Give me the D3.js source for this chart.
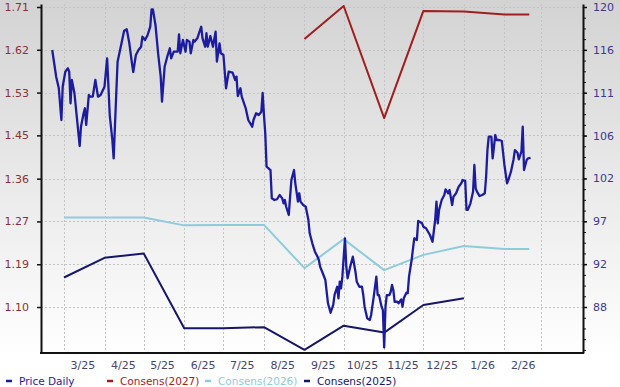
<!DOCTYPE html>
<html><head><meta charset="utf-8">
<script src="https://cdn.jsdelivr.net/npm/d3@7/dist/d3.min.js"></script>
<style>html,body{margin:0;padding:0;background:#fff}svg{display:block}</style>
</head><body>
<svg id="chart" width="620" height="387"></svg>
<script>
// ---------- data ----------
const priceDates = ["2025-02-20","2025-02-23","2025-02-25","2025-02-27","2025-02-28","2025-03-02","2025-03-04","2025-03-05","2025-03-06","2025-03-07","2025-03-09","2025-03-13","2025-03-14","2025-03-16","2025-03-17","2025-03-18","2025-03-20","2025-03-21","2025-03-23","2025-03-25","2025-03-27","2025-03-29","2025-04-01","2025-04-03","2025-04-05","2025-04-07","2025-04-08","2025-04-10","2025-04-11","2025-04-14","2025-04-16","2025-04-18","2025-04-20","2025-04-22","2025-04-23","2025-04-25","2025-04-27","2025-04-29","2025-04-30","2025-05-02","2025-05-04","2025-05-06","2025-05-07","2025-05-08","2025-05-10","2025-05-12","2025-05-14","2025-05-15","2025-05-17","2025-05-19","2025-05-21","2025-05-22","2025-05-24","2025-05-27","2025-05-28","2025-05-29","2025-05-31","2025-06-02","2025-06-03","2025-06-05","2025-06-06","2025-06-08","2025-06-09","2025-06-11","2025-06-14","2025-06-15","2025-06-17","2025-06-18","2025-06-19","2025-06-21","2025-06-23","2025-06-25","2025-06-26","2025-06-28","2025-06-29","2025-07-01","2025-07-03","2025-07-05","2025-07-08","2025-07-10","2025-07-11","2025-07-12","2025-07-14","2025-07-15","2025-07-18","2025-07-20","2025-07-23","2025-07-24","2025-07-26","2025-07-28","2025-07-30","2025-07-31","2025-08-01","2025-08-02","2025-08-03","2025-08-06","2025-08-07","2025-08-09","2025-08-11","2025-08-13","2025-08-15","2025-08-16","2025-08-17","2025-08-18","2025-08-20","2025-08-21","2025-08-22","2025-08-24","2025-08-25","2025-08-27","2025-08-28","2025-08-29","2025-08-31","2025-09-02","2025-09-04","2025-09-05","2025-09-07","2025-09-09","2025-09-11","2025-09-12","2025-09-13","2025-09-15","2025-09-17","2025-09-18","2025-09-19","2025-09-21","2025-09-23","2025-09-24","2025-09-26","2025-09-27","2025-09-28","2025-09-29","2025-09-30","2025-10-02","2025-10-03","2025-10-04","2025-10-06","2025-10-08","2025-10-10","2025-10-11","2025-10-13","2025-10-15","2025-10-16","2025-10-17","2025-10-19","2025-10-21","2025-10-22","2025-10-24","2025-10-26","2025-10-27","2025-10-28","2025-10-30","2025-10-31","2025-11-01","2025-11-02","2025-11-03","2025-11-05","2025-11-06","2025-11-07","2025-11-08","2025-11-09","2025-11-11","2025-11-12","2025-11-14","2025-11-15","2025-11-16","2025-11-18","2025-11-19","2025-11-20","2025-11-22","2025-11-24","2025-11-26","2025-11-27","2025-11-30","2025-12-01","2025-12-03","2025-12-06","2025-12-08","2025-12-10","2025-12-11","2025-12-12","2025-12-13","2025-12-15","2025-12-17","2025-12-18","2025-12-20","2025-12-21","2025-12-23","2025-12-24","2025-12-26","2025-12-28","2025-12-30","2025-12-31","2026-01-02","2026-01-03","2026-01-04","2026-01-06","2026-01-08","2026-01-09","2026-01-10","2026-01-11","2026-01-13","2026-01-15","2026-01-17","2026-01-18","2026-01-19","2026-01-20","2026-01-22","2026-01-23","2026-01-25","2026-01-26","2026-01-28","2026-01-30","2026-02-01","2026-02-03","2026-02-04","2026-02-06","2026-02-08","2026-02-09","2026-02-11","2026-02-12","2026-02-14","2026-02-15","2026-02-16","2026-02-18","2026-02-19","2026-02-21"];
const priceValues = [115.68,112.79,111.56,108.09,111.70,113.33,113.70,113.33,109.90,112.43,110.99,105.27,107.36,108.82,109.36,107.55,110.80,110.62,110.62,112.43,110.62,110.80,111.70,114.78,108.63,105.92,103.93,110.99,114.42,116.41,117.78,117.93,116.41,114.24,113.30,115.14,115.68,116.04,117.13,116.77,117.31,118.21,120.10,120.10,118.40,115.33,112.79,110.08,113.87,114.96,115.87,114.78,115.50,115.50,117.39,115.33,116.77,115.50,116.77,116.59,115.33,116.77,116.59,116.95,118.21,116.95,116.04,117.50,116.04,117.20,116.04,117.67,114.42,116.41,115.33,115.14,111.53,113.33,113.22,112.43,112.79,110.69,111.53,110.62,109.39,108.09,107.36,108.09,108.82,108.63,108.99,111.02,108.63,106.65,103.02,102.66,99.59,99.41,99.49,99.95,99.59,99.05,99.41,98.68,97.78,99.77,101.58,102.66,101.22,99.23,100.14,99.23,98.87,98.68,97.24,95.80,94.71,93.80,93.26,92.90,92.17,91.46,90.73,89.43,88.20,87.18,88.02,89.10,90.00,88.74,90.55,89.83,91.09,95.25,92.17,90.91,92.17,93.26,91.63,90.55,90.00,90.00,89.10,87.83,86.57,86.39,86.93,88.92,91.09,89.10,89.10,87.83,87.47,83.41,87.83,89.10,89.10,89.46,90.19,89.64,88.37,88.37,88.20,88.63,87.83,88.74,89.35,89.29,91.09,92.90,95.25,95.07,97.13,96.88,96.51,96.34,95.61,94.88,97.24,99.23,96.88,98.33,99.41,99.95,100.57,100.14,100.49,98.87,99.77,100.14,100.85,101.22,101.58,101.50,98.33,98.33,99.05,100.31,103.21,100.68,100.31,99.84,99.95,100.14,101.94,104.83,106.28,106.28,103.93,106.46,105.92,105.92,105.81,103.21,101.22,101.58,102.48,103.83,104.83,104.54,103.83,104.65,107.36,102.66,103.75,103.93,103.99];

const consDates = ["2025-03-01","2025-04-01","2025-05-01","2025-06-01","2025-07-01","2025-08-01","2025-09-01","2025-10-01","2025-11-01","2025-12-01","2026-01-01","2026-02-01","2026-02-20"];
const cons2027 = [null,null,null,null,null,null,1.645,1.712,1.484,1.702,1.701,1.695,1.695];
const cons2026 = [1.282,1.282,1.282,1.266,1.267,1.267,1.179,1.238,1.175,1.206,1.224,1.218,1.218];
const cons2025 = [1.160,1.200,1.209,1.057,1.057,1.059,1.013,1.062,1.048,1.104,1.118,null,null];

const leftTickValues = [1.100,1.187,1.274,1.361,1.449,1.536,1.623,1.710];
const leftTickLabels = ["1.10","1.19","1.27","1.36","1.45","1.53","1.62","1.71"];
const rightTickValues = [87.80,92.45,97.10,101.75,106.40,111.05,115.70,120.35];
const rightTickLabels = ["88","92","97","102","106","111","116","120"];
const monthStarts = ["2025-03-01","2025-04-01","2025-05-01","2025-06-01","2025-07-01","2025-08-01","2025-09-01","2025-10-01","2025-11-01","2025-12-01","2026-01-01","2026-02-01","2026-03-01"];
const xLabelDates = ["2025-03-15","2025-04-15","2025-05-15","2025-06-15","2025-07-15","2025-08-15","2025-09-15","2025-10-15","2025-11-15","2025-12-15","2026-01-15","2026-02-15"];
const xLabels = ["3/25","4/25","5/25","6/25","7/25","8/25","9/25","10/25","11/25","12/25","1/26","2/26"];

const seriesNames = ["Price Daily","Consens(2027)","Consens(2026)","Consens(2025)"];
const seriesColors = ["#1c1ca0","#a01e1e","#8ecbdb","#17176a"];

// ---------- layout ----------
const L = 41, R = 583, T = 4, B = 353;
const parse = d3.timeParse("%Y-%m-%d");
const svg = d3.select("#chart");
const font = "'DejaVu Sans', Verdana, sans-serif";

const defs = svg.append("defs");
const grad = defs.append("linearGradient").attr("id","bg").attr("x1",0).attr("y1",0).attr("x2",0).attr("y2",1);
grad.append("stop").attr("offset","0%").attr("stop-color","#d3d3d3");
grad.append("stop").attr("offset","50%").attr("stop-color","#ebebeb");
grad.append("stop").attr("offset","92%").attr("stop-color","#ffffff");
svg.append("rect").attr("x",0).attr("y",0).attr("width",620).attr("height",387).attr("fill","url(#bg)");

const x = d3.scaleTime()
  .domain([new Date(2025,1,11,9,40), new Date(2026,3,2,3,0)])
  .range([L, R]);
const yL = d3.scaleLinear().domain([1.0065, 1.7161]).range([B, T]);
const yR = d3.scaleLinear().domain([82.81, 120.675]).range([B, T]);

// grid
const grid = svg.append("g").attr("stroke","#c4c4c4").attr("stroke-width",1).attr("stroke-dasharray","2,2");
grid.selectAll("line.h").data(leftTickValues).join("line")
  .attr("x1",L).attr("x2",R).attr("y1",d=>Math.round(yL(d))+0.5).attr("y2",d=>Math.round(yL(d))+0.5);
grid.selectAll("line.v").data(monthStarts.map(parse)).join("line")
  .attr("y1",T).attr("y2",B).attr("x1",d=>Math.round(x(d))+0.5).attr("x2",d=>Math.round(x(d))+0.5);

// lines
const cDates = consDates.map(parse);
function consLine(vals){
  return d3.line().defined((d,i)=>vals[i]!==null).x((d,i)=>x(cDates[i])).y((d,i)=>yL(vals[i]));
}
const consSets = [[cons2025,3],[cons2026,2],[cons2027,1]];
consSets.forEach(([vals,ci])=>{
  svg.append("path").datum(vals).attr("fill","none").attr("stroke",seriesColors[ci])
    .attr("stroke-width",2).attr("stroke-linejoin","round").attr("d",consLine(vals));
});
const priceData = priceDates.map((d,i)=>({date:parse(d), v:priceValues[i]}));
svg.append("path").datum(priceData).attr("fill","none").attr("stroke",seriesColors[0])
  .attr("stroke-width",2.3).attr("stroke-linejoin","round")
  .attr("d", d3.line().x(d=>x(d.date)).y(d=>yR(d.v)));

// axes
const axL = svg.append("g").attr("transform",`translate(${L},0)`)
  .call(d3.axisLeft(yL).tickValues(leftTickValues).tickFormat((d,i)=>leftTickLabels[i]).tickSize(4).tickSizeOuter(0).tickPadding(8));
const axR = svg.append("g").attr("transform",`translate(${R},0)`)
  .call(d3.axisRight(yR).tickValues(rightTickValues).tickFormat((d,i)=>rightTickLabels[i]).tickSize(4).tickSizeOuter(0).tickPadding(6));
const minorVals = d3.range(-4, 29).map(k=>rightTickValues[0] + k*(rightTickValues[1]-rightTickValues[0])/4)
  .filter(v=>v>yR.domain()[0] && v<yR.domain()[1]);
svg.append("g").attr("transform",`translate(${R},0)`)
  .call(d3.axisRight(yR).tickValues(minorVals).tickFormat("").tickSize(3).tickSizeOuter(0))
  .call(g=>g.select(".domain").remove());
const axB = svg.append("g").attr("transform",`translate(0,${B})`)
  .call(d3.axisBottom(x).tickValues(xLabelDates.map(parse)).tickFormat((d,i)=>xLabels[i]).tickSize(0).tickSizeOuter(0).tickPadding(8));

[axL,axR,axB].forEach(g=>{
  g.select(".domain").attr("stroke","#111").attr("stroke-width",2);
  g.selectAll(".tick line").attr("stroke","#111").attr("stroke-width",1.5);
  g.selectAll("text").attr("font-family",font).attr("font-size",11);
});
svg.selectAll("g .tick line").attr("stroke","#111");
axL.selectAll("text").attr("fill","#8b3232");
axR.selectAll("text").attr("fill","#3b3b8e");
axB.selectAll("text").attr("fill","#46466a");
axB.select(".domain").attr("d",`M${L-1},0H${R+1}`);

// legend
const legX = [5, 106, 204, 303];
const leg = svg.append("g").attr("font-family",font).attr("font-size",10.5);
seriesNames.forEach((n,i)=>{
  leg.append("line").attr("x1",legX[i]+1).attr("x2",legX[i]+7).attr("y1",381).attr("y2",381)
    .attr("stroke",seriesColors[i]).attr("stroke-width",2.5);
  leg.append("text").attr("x",legX[i]+14).attr("y",385).attr("fill",seriesColors[i]).text(n);
});
</script>
</body></html>
